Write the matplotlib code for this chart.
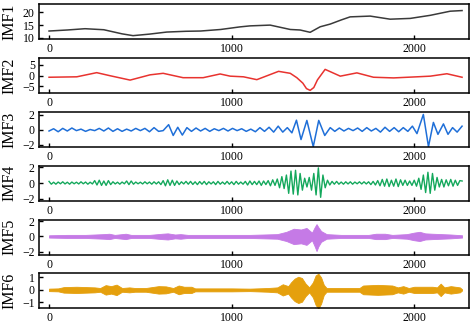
import matplotlib
matplotlib.use("Agg")
import matplotlib.pyplot as plt
import numpy as np

plt.rcParams.update({
    "font.family": "serif",
    "font.serif": ["Liberation Serif", "DejaVu Serif"],
    "font.size": 8,
    "axes.linewidth": 1.1,
    "xtick.direction": "in",
    "ytick.direction": "in",
})

# ---- IMF1 (trend) ----
imf1_t = [0, 100, 197, 300, 400, 460, 550, 645, 750, 830, 940, 1045, 1101, 1211,
          1321, 1375, 1430, 1485, 1540, 1600, 1649, 1759, 1868, 1978, 2088, 2197, 2262]
imf1_v = [12.7, 13.1, 13.6, 13.2, 11.6, 10.9, 11.5, 12.3, 12.6, 12.7, 13.3, 14.3, 14.7, 15.0,
          13.3, 13.1, 12.2, 14.35, 15.4, 17.0, 18.2, 18.5, 17.3, 17.6, 18.8, 20.4, 20.65]

# ---- IMF2 ----
imf2_t = [0, 152, 261, 334, 444, 553, 625, 734, 844, 937, 992, 1065, 1138, 1257, 1321,
          1357, 1390, 1410, 1430, 1450, 1470, 1512, 1595, 1686, 1777, 1887, 2015, 2088, 2179, 2262]
imf2_v = [-0.8, -0.6, 1.3, -0.1, -2.1, 0.3, 1.0, -1.0, -1.0, 0.7, -0.3, -0.6, -1.9, 1.9, 1.0,
          -1.0, -3.5, -6.0, -6.8, -5.5, -2.0, 2.8, -0.3, 1.2, -0.8, -1.1, -0.6, -0.3, 0.8, -0.8]

# ---- IMF3 (extrema) ----
imf3_t = [0, 25, 50, 75, 100, 125, 150, 175, 200, 225, 250, 275, 300, 325, 350, 375, 400,
          425, 450, 475, 500, 525, 550, 575, 600, 625, 655, 680, 705, 730, 755, 780, 805,
          830, 855, 880, 905, 930, 955, 980, 1005, 1030, 1055, 1080, 1105, 1130, 1155, 1180,
          1205, 1230, 1255, 1280, 1305, 1330, 1355, 1380, 1412, 1447, 1477, 1510, 1540, 1565,
          1590, 1615, 1640, 1665, 1690, 1715, 1740, 1765, 1790, 1815, 1840, 1865, 1890, 1915,
          1940, 1965, 1990, 2015, 2050, 2078, 2105, 2130, 2160, 2185, 2210, 2235, 2262]
imf3_v = [-0.15, 0.15, -0.25, 0.2, -0.15, 0.25, -0.1, 0.1, -0.2, 0.05, -0.1, 0.2, -0.15, 0.25,
          -0.2, 0.15, -0.2, 0.1, -0.15, 0.2, -0.1, 0.2, -0.25, 0.3, -0.2, -0.1, 0.7, -0.75, 0.35,
          -0.7, 0.3, -0.2, 0.25, -0.15, 0.2, -0.2, 0.15, -0.1, 0.2, -0.15, 0.2, -0.1, 0.15, -0.2,
          0.1, -0.25, 0.3, -0.2, 0.35, -0.3, 0.5, -0.3, 0.3, -0.4, 1.3, -1.3, 1.27, -2.25, 1.27,
          -0.75, 0.3, -0.2, 0.25, -0.15, 0.2, -0.1, 0.25, -0.2, 0.3, -0.15, 0.2, -0.3, 0.35, -0.2,
          0.3, -0.25, 0.3, -0.2, 0.5, -0.5, 2.07, -2.25, 1.0, -0.6, 0.8, -0.6, 0.3, -0.3, 0.5]

# ---- IMF4 (extrema, one every 12.5 samples) ----
imf4_v = [0.2, -0.15, 0.1, -0.15, 0.12, -0.1, 0.15, -0.12, 0.1, -0.15, 0.12, -0.1, 0.1, -0.12, 0.15, -0.1, 0.12, -0.15, 0.1, -0.12,
          0.3, -0.25, 0.35, -0.3, 0.25, -0.3, 0.3, -0.2, 0.15, -0.12, 0.1, -0.15, 0.12, -0.1, 0.25, -0.2, 0.25, -0.15, 0.12, -0.1,
          0.1, -0.12, 0.15, -0.1, 0.12, -0.15, 0.15, -0.12, 0.15, -0.2, 0.3, -0.35, 0.4, -0.3, 0.35, -0.3, 0.25, -0.2, 0.15, -0.12,
          0.2, -0.15, 0.2, -0.18, 0.15, -0.2, 0.18, -0.15, 0.2, -0.2, 0.15, -0.12, 0.15, -0.2, 0.2, -0.15, 0.12, -0.15, 0.2, -0.15,
          0.15, -0.2, 0.2, -0.15, 0.12, -0.15, 0.2, -0.25, 0.25, -0.2, 0.2, -0.2, 0.25, -0.3, 0.25, -0.2, 0.3, -0.35, 0.4, -0.3,
          0.5, -0.6, 0.8, -0.7, 1.0, -1.3, 1.5, -1.4, 1.6, -1.5, 1.2, -0.9, 0.6, -0.5, 0.7, -0.9, 1.2, -1.5, 1.9, -1.8,
          1.0, -0.6, 0.35, -0.25, 0.2, -0.15, 0.2, -0.15, 0.12, -0.15, 0.15, -0.12, 0.15, -0.15, 0.12, -0.1, 0.15, -0.12, 0.15, -0.12,
          0.15, -0.2, 0.2, -0.25, 0.3, -0.35, 0.45, -0.4, 0.5, -0.45, 0.35, -0.4, 0.5, -0.45, 0.4, -0.3, 0.35, -0.3, 0.25, -0.3,
          0.35, -0.4, 0.6, -0.8, 1.0, -1.2, 1.35, -1.3, 1.2, -0.9, 0.7, -0.5, 0.45, -0.5, 0.4, -0.35, 0.45, -0.4, 0.35, -0.3,
          0.3, 0.25]

# ---- IMF5 envelope ----
imf5_t = [0, 100, 200, 300, 330, 360, 420, 450, 550, 620, 650, 690, 720, 760, 900, 1100, 1250,
          1300, 1340, 1380, 1410, 1440, 1455, 1465, 1475, 1490, 1520, 1600, 1750, 1790, 1840, 1880, 1960,
          2000, 2030, 2060, 2100, 2150, 2200, 2262]
imf5_hi = [0.15, 0.2, 0.2, 0.3, 0.35, 0.2, 0.35, 0.2, 0.2, 0.35, 0.4, 0.25, 0.3, 0.2, 0.2, 0.2, 0.3,
           0.6, 1.0, 0.9, 1.1, 0.5, 1.2, 1.6, 1.2, 0.7, 0.3, 0.2, 0.2, 0.35, 0.35, 0.2, 0.3,
           0.5, 0.6, 0.4, 0.35, 0.3, 0.25, 0.15]
imf5_lo = [-0.15, -0.2, -0.2, -0.3, -0.35, -0.2, -0.35, -0.2, -0.2, -0.35, -0.4, -0.25, -0.3, -0.2, -0.2, -0.2, -0.3,
           -0.6, -1.0, -0.9, -1.1, -0.5, -1.3, -1.9, -1.3, -0.7, -0.3, -0.2, -0.2, -0.35, -0.35, -0.2, -0.3,
           -0.5, -0.6, -0.4, -0.35, -0.3, -0.25, -0.15]

# ---- IMF6 envelope ----
imf6_t = [0, 50, 80, 150, 250, 280, 310, 340, 370, 400, 440, 470, 530, 600, 640, 680, 710, 740,
          780, 800, 1000, 1100, 1200, 1250, 1280, 1310, 1325, 1345, 1365, 1385, 1405, 1425, 1445,
          1460, 1475, 1490, 1505, 1520, 1700, 1720, 1800, 1880, 1910, 1940, 1970, 2000, 2100,
          2125, 2145, 2165, 2200, 2250, 2262]
imf6_hi = [0.1, 0.12, 0.22, 0.25, 0.2, 0.15, 0.38, 0.3, 0.42, 0.15, 0.2, 0.15, 0.15, 0.3, 0.28, 0.15, 0.35, 0.25,
           0.25, 0.12, 0.12, 0.1, 0.15, 0.2, 0.45, 0.3, 0.6, 0.9, 1.05, 0.95, 0.5, 0.2, 0.6,
           1.15, 1.3, 1.0, 0.4, 0.15, 0.15, 0.35, 0.4, 0.35, 0.2, 0.3, 0.15, 0.25, 0.25,
           0.2, 0.5, 0.2, 0.3, 0.2, 0.05]
imf6_lo = [-0.1, -0.12, -0.22, -0.25, -0.2, -0.15, -0.38, -0.3, -0.42, -0.15, -0.2, -0.15, -0.15, -0.3, -0.28, -0.15, -0.35, -0.25,
           -0.25, -0.12, -0.12, -0.1, -0.15, -0.2, -0.45, -0.3, -0.6, -0.9, -1.05, -0.95, -0.5, -0.2, -0.6,
           -1.2, -1.5, -1.1, -0.4, -0.15, -0.15, -0.35, -0.4, -0.35, -0.2, -0.3, -0.15, -0.25, -0.25,
           -0.2, -0.5, -0.2, -0.3, -0.2, -0.05]

labels = ["IMF1", "IMF2", "IMF3", "IMF4", "IMF5", "IMF6"]
colors = ["#3a3a3a", "#e8332f", "#1f6fd8", "#14a85c", "#c57ae6", "#e5a00d"]
ylims = [(9.6, 23.2), (-8, 8), (-2.3, 2.4), (-2.2, 2.2), (-2.35, 2.2), (-1.45, 1.35)]
yticks = [[10, 15, 20], [-5, 0, 5], [-2, 0, 2], [-2, 0, 2], [-2, 0, 2], [-1, 0, 1]]

W, H = 474, 326
fig = plt.figure(figsize=(W / 100, H / 100), dpi=100)
tops = [4, 58, 112, 165.5, 219.5, 273]
axes = []
for i, top in enumerate(tops):
    ax = fig.add_axes([39 / W, 1 - (top + 35) / H, 430 / W, 35 / H])
    axes.append(ax)

axes[0].plot(imf1_t, imf1_v, color=colors[0], lw=1.1)
axes[1].plot(imf2_t, imf2_v, color=colors[1], lw=1.1)
axes[2].plot(imf3_t, imf3_v, color=colors[2], lw=1.1)
imf4_t = np.arange(len(imf4_v)) * 12.5
axes[3].plot(imf4_t, imf4_v, color=colors[3], lw=1.0)
axes[4].fill_between(imf5_t, imf5_lo, imf5_hi, color=colors[4], lw=0.6)
axes[5].fill_between(imf6_t, imf6_lo, imf6_hi, color=colors[5], lw=0.6)

for ax, lab, yl, yt in zip(axes, labels, ylims, yticks):
    ax.set_xlim(-55, 2300)
    ax.set_ylim(*yl)
    ax.set_yticks(yt)
    ax.set_xticks([0, 1000, 2000])
    ax.tick_params(length=3, width=1, pad=3, labelsize=8.5)
    ax.set_ylabel(lab, fontsize=11.5)
    ax.yaxis.set_label_coords(-0.05, 0.5)

fig.savefig("out.png", dpi=100, facecolor="white")
